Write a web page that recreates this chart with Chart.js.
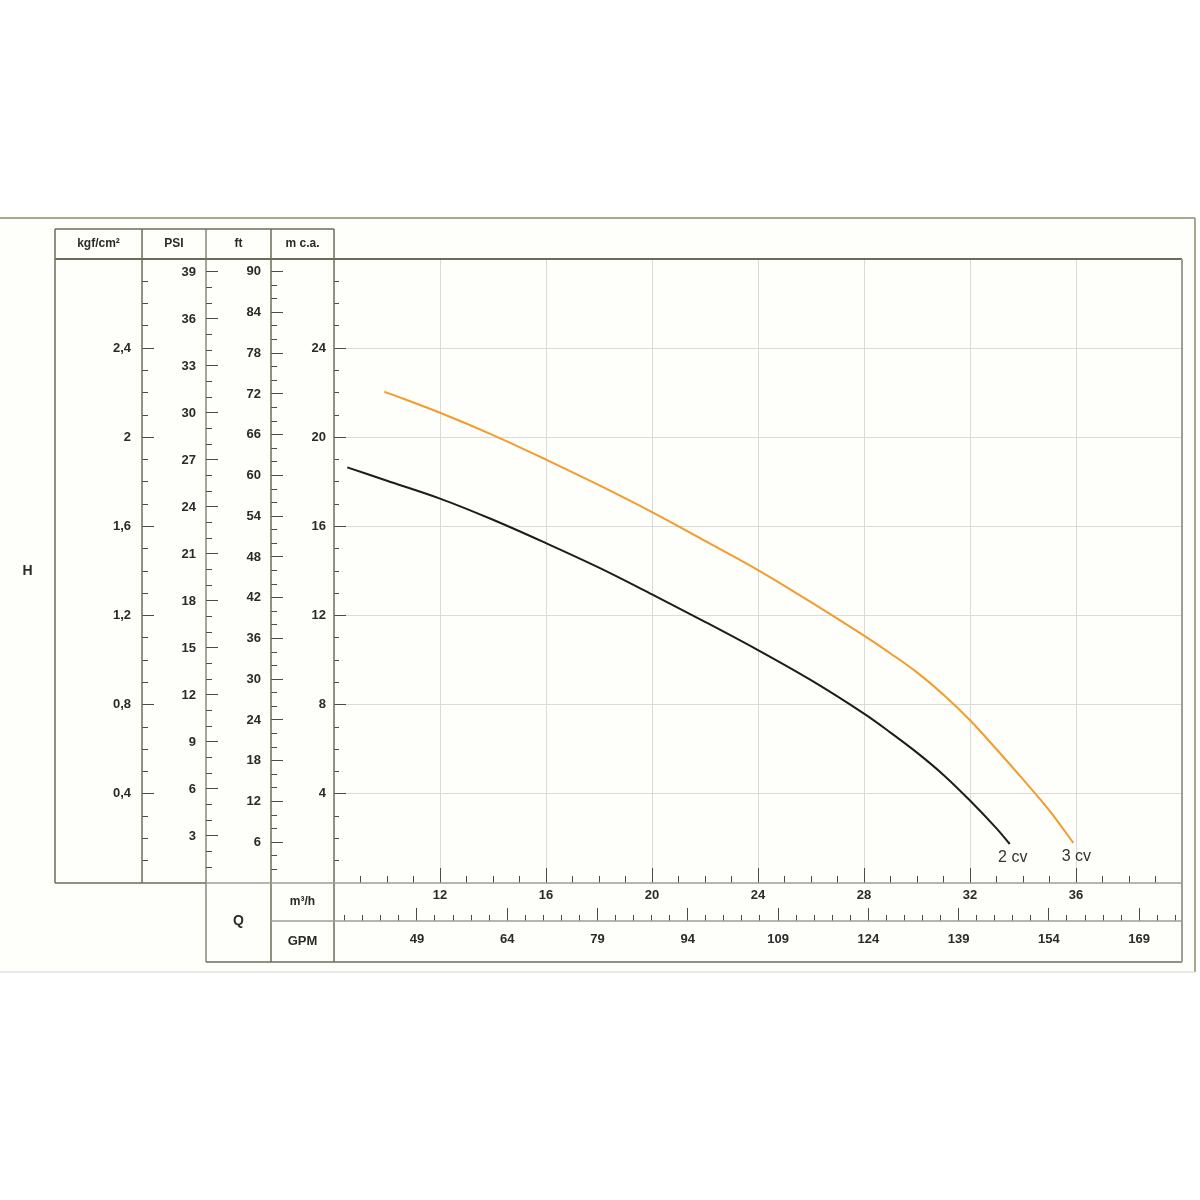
<!DOCTYPE html>
<html>
<head>
<meta charset="utf-8">
<script src="https://cdn.jsdelivr.net/npm/chart.js@4.4.1/dist/chart.umd.min.js"></script>
<style>
  html, body { margin: 0; padding: 0; background: #fff; }
  #wrap { width: 1200px; height: 1200px; }
</style>
</head>
<body>
<div id="wrap"><canvas id="pumpChart" width="1200" height="1200"></canvas></div>
<script>
// pump curves, Q in m3/h, H in metres of water column
const flow2cv = [8.5, 10, 12, 14, 16, 18, 20, 22, 24, 26, 28, 29, 30, 31, 32, 33, 33.5];
const head2cv = [18.65, 18.05, 17.25, 16.3, 15.25, 14.15, 12.95, 11.72, 10.45, 9.1, 7.6, 6.75, 5.85, 4.85, 3.7, 2.45, 1.75];
const flow3cv = [9.9, 12, 14, 16, 18, 20, 22, 24, 26, 28, 29, 30, 31, 32, 33, 34, 35, 35.9];
const head3cv = [22.05, 21.1, 20.1, 19.0, 17.85, 16.64, 15.35, 14.04, 12.6, 11.1, 10.3, 9.45, 8.45, 7.3, 6.0, 4.65, 3.25, 1.8];
const curveLabels = ["2 cv", "3 cv"];

// axis ranges and labelled ticks
const flowRange = [8, 40];
const headRange = [0, 28];
const flowTicks = [12, 16, 20, 24, 28, 32, 36];
const gpmTicks = [49, 64, 79, 94, 109, 124, 139, 154, 169];
const headTicks = [4, 8, 12, 16, 20, 24];
const kgfTicks = [0.4, 0.8, 1.2, 1.6, 2, 2.4];
const psiTicks = [3, 6, 9, 12, 15, 18, 21, 24, 27, 30, 33, 36, 39];
const ftTicks = [6, 12, 18, 24, 30, 36, 42, 48, 54, 60, 66, 72, 78, 84, 90];
const headerLabels = ["kgf/cm²", "PSI", "ft", "m c.a."];

// unit conversions from the main scales
const KGF_PER_M = 0.1;
const PSI_PER_M = 1.42233;
const FT_PER_M = 3.28084;
const GPM_PER_M3H = 4.40287;

const colors = {
  black: "#1c1c1c",
  orange: "#f39c2c",
  ink: "#2a2a2a",
  tick: "#4a4a4a",
  grid: "#dadada",
  rule: "#6c6c58",
  ruleLight: "#9c9c9c",
  frame: "#a8a890",
  paper: "#fefefa",
};

const FONT = "Arial, 'Liberation Sans', sans-serif";

function stepTicks(majors, step, min, max) {
  const out = [];
  let v = majors[0];
  while (v - step > min + 1e-6) v -= step;
  for (; v < max - 1e-6; v += step) out.push(Math.round(v * 1000) / 1000);
  return out;
}

function isMajor(list, v) {
  return list.some((m) => Math.abs(m - v) < 1e-6);
}

function comma(v) {
  return String(v).replace(".", ",");
}

function makeAxis({ axis, position, weight, min, max, majors, step, size, tickLen, minorLen, padding, format, chartGrid }) {
  const horizontal = axis === "x";
  const full = Math.abs(tickLen);
  // left ticks are stroked from the far end back to the border, bottom ticks from the border out
  const minorDash = horizontal ? [minorLen, 200] : [0, full - minorLen, minorLen, 200];
  const major = (ctx) => ctx.tick && isMajor(majors, ctx.tick.value);
  return {
    type: "linear",
    axis,
    position,
    weight,
    min,
    max,
    afterBuildTicks: (scale) => {
      scale.ticks = stepTicks(majors, step, min, max).map((value) => ({ value }));
    },
    afterFit: (scale) => {
      if (horizontal) scale.height = size;
      else scale.width = size;
    },
    border: { display: false },
    grid: {
      display: true,
      drawOnChartArea: !!chartGrid,
      color: (ctx) => (chartGrid && major(ctx) ? colors.grid : "rgba(0,0,0,0)"),
      lineWidth: 1,
      drawTicks: true,
      tickLength: tickLen,
      tickColor: colors.tick,
      tickWidth: 1,
      tickBorderDash: (ctx) => (major(ctx) ? [] : minorDash),
    },
    ticks: {
      autoSkip: false,
      maxRotation: 0,
      minRotation: 0,
      padding,
      color: colors.ink,
      font: { family: FONT, size: 13, weight: "bold" },
      callback: (v) => (isMajor(majors, v) ? format(v) : ""),
    },
  };
}

const tablePlugin = {
  id: "pumpTable",
  beforeDraw(chart) {
    const { ctx, chartArea: a, scales: s } = chart;
    const frameTop = a.top - 41;
    const frameBottom = s.gpm.bottom + 10;
    const frameRight = a.right + 13;
    ctx.save();
    ctx.fillStyle = colors.paper;
    ctx.fillRect(0, frameTop, frameRight, frameBottom - frameTop);
    ctx.restore();
  },
  afterDraw(chart) {
    const { ctx, chartArea: a, scales: s } = chart;
    const L = s.kgf.left;
    const c1 = s.kgf.right;
    const c2 = s.psi.right;
    const c3 = s.ft.right;
    const headTop = a.top - 30;
    const qRow = s.x.bottom;
    const gpmBottom = s.gpm.bottom;
    const frameTop = a.top - 41;
    const frameBottom = gpmBottom + 10;
    const frameRight = a.right + 13;

    const line = (x1, y1, x2, y2, color, width) => {
      ctx.save();
      ctx.strokeStyle = color;
      ctx.lineWidth = width;
      ctx.beginPath();
      ctx.moveTo(x1, y1);
      ctx.lineTo(x2, y2);
      ctx.stroke();
      ctx.restore();
    };

    // outer frame
    line(0, frameTop, frameRight, frameTop, colors.frame, 2);
    line(frameRight, frameTop, frameRight, frameBottom, colors.frame, 2);
    line(0, frameBottom, frameRight, frameBottom, "#d2d2d2", 1);

    // table rules
    line(L, headTop, a.left, headTop, colors.rule, 1.5);
    line(L, a.top, a.right, a.top, colors.rule, 2);
    line(L, headTop, L, a.bottom, colors.rule, 1.5);
    line(c1, headTop, c1, a.bottom, colors.rule, 1.5);
    line(c2, headTop, c2, gpmBottom, colors.rule, 1.2);
    line(c3, headTop, c3, gpmBottom, colors.rule, 1.5);
    line(a.left, headTop, a.left, gpmBottom, colors.rule, 1.5);
    line(L, a.bottom, c2, a.bottom, colors.rule, 1.5);
    line(c2, a.bottom, a.right, a.bottom, colors.ruleLight, 1.5);
    line(c3, qRow, a.right, qRow, colors.ruleLight, 1.5);
    line(c2, gpmBottom, a.right, gpmBottom, colors.rule, 1.5);
    line(a.right, a.top, a.right, gpmBottom, colors.ruleLight, 2);

    // header and unit texts
    ctx.save();
    ctx.fillStyle = colors.ink;
    ctx.textAlign = "center";
    ctx.textBaseline = "middle";
    ctx.font = `bold 12px ${FONT}`;
    const cols = [[L, c1], [c1, c2], [c2, c3], [c3, a.left]];
    cols.forEach(([x1, x2], i) => {
      ctx.fillText(headerLabels[i], (x1 + x2) / 2, headTop + 15);
    });
    ctx.font = `bold 14px ${FONT}`;
    ctx.fillText("H", L / 2, (a.top + a.bottom) / 2);
    ctx.fillText("Q", (c2 + c3) / 2, qRow);
    ctx.font = `bold 12px ${FONT}`;
    ctx.fillText("m³/h", (c3 + a.left) / 2, (a.bottom + qRow) / 2);
    ctx.font = `bold 13px ${FONT}`;
    ctx.fillText("GPM", (c3 + a.left) / 2, (qRow + gpmBottom) / 2);
    ctx.restore();
  },
  afterDatasetsDraw(chart) {
    const { ctx } = chart;
    ctx.save();
    ctx.fillStyle = "#333";
    ctx.font = `16px ${FONT}`;
    ctx.textAlign = "center";
    ctx.textBaseline = "middle";
    chart.data.datasets.forEach((ds, i) => {
      const pts = chart.getDatasetMeta(i).data;
      const last = pts[pts.length - 1];
      ctx.fillText(curveLabels[i], last.x + 3, last.y + 14);
    });
    ctx.restore();
  },
};

function toPoints(xs, ys) {
  return xs.map((x, i) => ({ x, y: ys[i] }));
}

new Chart(document.getElementById("pumpChart"), {
  type: "line",
  data: {
    datasets: [
      {
        label: curveLabels[0],
        data: toPoints(flow2cv, head2cv),
        borderColor: colors.black,
        borderWidth: 2,
        pointRadius: 0,
        tension: 0.35,
        xAxisID: "x",
        yAxisID: "y",
      },
      {
        label: curveLabels[1],
        data: toPoints(flow3cv, head3cv),
        borderColor: colors.orange,
        borderWidth: 2,
        pointRadius: 0,
        tension: 0.35,
        xAxisID: "x",
        yAxisID: "y",
      },
    ],
  },
  options: {
    responsive: false,
    animation: false,
    events: [],
    layout: { padding: { left: 55, top: 259, right: 18, bottom: 238 } },
    plugins: { legend: { display: false }, tooltip: { enabled: false } },
    scales: {
      x: makeAxis({
        axis: "x", position: "bottom", weight: 0,
        min: flowRange[0], max: flowRange[1], majors: flowTicks, step: 1,
        size: 38, tickLen: -15, minorLen: 7, padding: 20, format: (v) => v, chartGrid: true,
      }),
      gpm: makeAxis({
        axis: "x", position: "bottom", weight: 1,
        min: flowRange[0] * GPM_PER_M3H, max: flowRange[1] * GPM_PER_M3H, majors: gpmTicks, step: 3,
        size: 41, tickLen: -13, minorLen: 6, padding: 24, format: (v) => v,
      }),
      y: makeAxis({
        axis: "y", position: "left", weight: 0,
        min: headRange[0], max: headRange[1], majors: headTicks, step: 1,
        size: 63, tickLen: -12, minorLen: 5, padding: 20, format: (v) => v, chartGrid: true,
      }),
      ft: makeAxis({
        axis: "y", position: "left", weight: 1,
        min: headRange[0] * FT_PER_M, max: headRange[1] * FT_PER_M, majors: ftTicks, step: 2,
        size: 65, tickLen: -12, minorLen: 6, padding: 22, format: (v) => v,
      }),
      psi: makeAxis({
        axis: "y", position: "left", weight: 2,
        min: headRange[0] * PSI_PER_M, max: headRange[1] * PSI_PER_M, majors: psiTicks, step: 1,
        size: 64, tickLen: -12, minorLen: 6, padding: 22, format: (v) => v,
      }),
      kgf: makeAxis({
        axis: "y", position: "left", weight: 3,
        min: headRange[0] * KGF_PER_M, max: headRange[1] * KGF_PER_M, majors: kgfTicks, step: 0.1,
        size: 87, tickLen: -12, minorLen: 6, padding: 23, format: comma,
      }),
    },
  },
  plugins: [tablePlugin],
});
</script>
</body>
</html>
